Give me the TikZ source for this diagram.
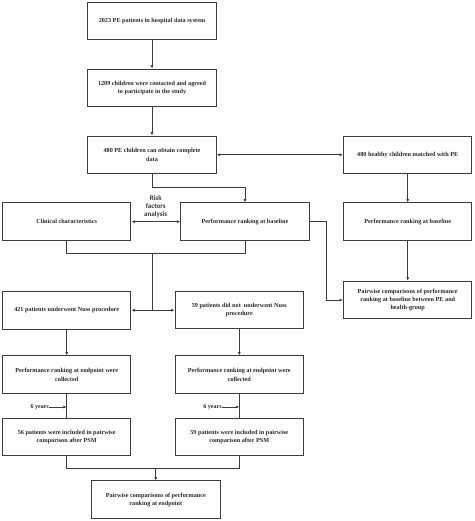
\documentclass[tikz,border=0pt]{standalone}
\usepackage{fontspec}
\setmainfont{Liberation Serif}
\newfontfamily\riskfont{Carlito}
\usetikzlibrary{arrows.meta}
\definecolor{lc}{HTML}{3C3C3C}
\begin{document}
\begin{tikzpicture}[x=1pt,y=-1pt,
  fbox/.style={draw=lc, line width=1pt, minimum width=128.5pt, minimum height=37.5pt,
    align=center, inner sep=1pt, font=\fontsize{6.2}{8.3}\selectfont\bfseries, text=black!85},
  conn/.style={draw=lc, line width=1pt},
  arr/.style={conn, -{Latex[length=3.4pt,width=3pt]}},
  darr/.style={conn, {Latex[length=3.4pt,width=3pt]}-{Latex[length=3.4pt,width=3pt]}},
  lbl/.style={font=\fontsize{6}{8}\selectfont\bfseries, text=black!85, inner sep=0pt}
]
\useasboundingbox (0,0) rectangle (474,521);

\node[fbox] (b1) at (152,21) {2023 PE patients in hospital data system};
\node[fbox] (b2) at (152,87.8) {1209 children were contacted and agreed\\to participate in the study};
\node[fbox] (b3) at (152,154.8) {480 PE children can obtain complete\\data};
\node[fbox] (hc) at (407.7,154.8) {480 healthy children matched with PE};
\node[fbox] (clin) at (66.7,221.7) {Clinical characteristics};
\node[fbox] (perfL) at (245,221.7) {Performance ranking at baseline};
\node[fbox] (perfR) at (407.7,221.7) {Performance ranking at baseline};
\node[fbox] (pairR) at (407.7,300) {Pairwise comparisons of performance\\ranking at baseline between PE and\\health-group};
\node[fbox] (n421) at (66.7,310.3) {421 patients underwent Nuss procedure};
\node[fbox] (n59) at (239.3,310) {59 patients did not\ \ underwent Nuss\\procedure};
\node[fbox] (endL) at (66.7,374.7) {Performance ranking at endpoint were\\collected};
\node[fbox] (endR) at (239.3,374.7) {Performance ranking at endpoint were\\collected};
\node[fbox] (n56) at (66.7,437) {56 patients were included in pairwise\\comparison after PSM};
\node[fbox] (n59b) at (239.3,437) {59 patients were included in pairwise\\comparison after PSM};
\node[fbox] (fin) at (155.8,499.7) {Pairwise comparisons of performance\\ranking at endpoint};

\node[align=center, font=\riskfont\fontsize{7}{8.4}\selectfont\bfseries, text=black!80, inner sep=0pt] (risk) at (155.7,206.5) {Risk\\factors\\analysis};

\draw[arr] (b1) -- (b2);
\draw[arr] (b2) -- (b3);
\draw[darr] (b3) -- (hc);
\draw[arr] (b3.south) -- ++(0,13.5) -| (perfL.north);
\draw[darr] (clin) -- (perfL);

\coordinate (j1) at (152.7,253.3);
\coordinate (j2) at (152.7,310.2);
\draw[conn] (clin.south) -- (clin.south |- j1) -- (perfL.south |- j1) -- (perfL.south);
\draw[conn] (j1) -- (j2);
\draw[arr] (j2) -- (n421.east |- j2);
\draw[arr] (j2) -- (n59.west |- j2);

\draw[arr] (perfL.east) -- ++(16.7,0) |- (pairR.west);
\draw[arr] (hc) -- (perfR);
\draw[arr] (perfR) -- (pairR);

\draw[arr] (n421) -- (endL);
\draw[arr] (n59) -- (endR);
\draw[conn] (endL) -- (n56);
\draw[conn] (endR) -- (n59b);

\node[lbl] (y1) at (39.7,407) {6 years};
\node[lbl] (y2) at (212.5,407) {6 years};
\draw[arr] (y1.east) -- (endL.south |- y1);
\draw[arr] (y2.east) -- (endR.south |- y2);

\coordinate (j3) at (155.8,468.7);
\draw[conn] (n56.south) -- (n56.south |- j3) -- (n59b.south |- j3) -- (n59b.south);
\draw[arr] (j3) -- (fin.north);
\end{tikzpicture}
\end{document}
